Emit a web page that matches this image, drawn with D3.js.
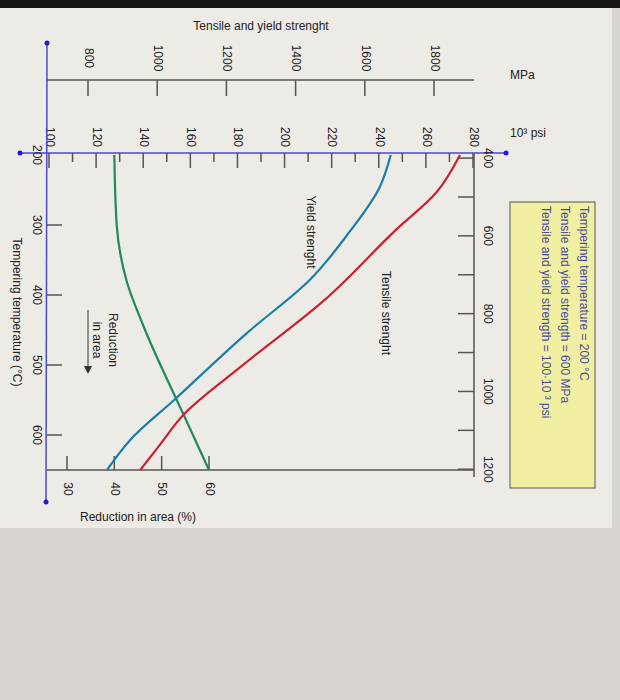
<!DOCTYPE html><html><head><meta charset="utf-8">
<script src="https://cdn.jsdelivr.net/npm/d3@7/dist/d3.min.js"></script>
<style>body{margin:0}svg{display:block;font-family:Arial,"Liberation Sans",sans-serif}</style></head><body>
<script>
const tempTicks=[200,300,400,500,600];
const mpaTicks=[800,1000,1200,1400,1600,1800];
const ksiTicks=[100,120,140,160,180,200,220,240,260,280];
const fTicks=[400,600,800,1000,1200];
const raTicks=[30,40,50,60];
const tensileT=[200,254,307,407,503,569,617,650];
const tensileMPa=[1875,1806,1690,1484,1240,1080,1003,951];
const yieldT=[200,246,311,379,454,550,607,650];
const yieldMPa=[1675,1643,1554,1440,1260,1049,922,855];
const raT=[200,300,380,450,569,650];
const raPct=[40,40.5,42.6,46.5,54.5,60];
const boxLines=["Tempering temperature  = 200 °C","Tensile and yield strength = 600 MPa","Tensile and yield strength = 100·10 ³ psi"];

const svg=d3.select("body").append("svg").attr("width",620).attr("height",700);
svg.append("rect").attr("width",620).attr("height",700).attr("fill","#d8d5d1");
svg.append("rect").attr("width",612).attr("height",520).attr("y",8).attr("fill","#ecebe6");
svg.append("rect").attr("width",620).attr("height",8).attr("fill","#161616");

const yT=d3.scaleLinear([200,650],[155,470]);
const xM=d3.scaleLinear([800,1800],[88,434]);
const xK=d3.scaleLinear([100,280],[49,473]);
const xP=d3.scaleLinear([30,60],[67,209]);
const yF=f=>yT((f-32)*5/9);
const blue="#4a4ad0",gray="#555";
function vtext(x,y,t,o={}){const g=svg.append("text").attr("transform",`translate(${x},${y}) rotate(90)`).attr("text-anchor",o.a||"middle").attr("dominant-baseline","middle").attr("font-size",o.s||12).attr("fill",o.c||"#222").text(t);return g;}

svg.append("line").attr("x1",47).attr("x2",474).attr("y1",80).attr("y2",80).attr("stroke",gray).attr("stroke-width",1.5);
mpaTicks.forEach(v=>{svg.append("line").attr("x1",xM(v)).attr("x2",xM(v)).attr("y1",80).attr("y2",96).attr("stroke",gray).attr("stroke-width",1.5);vtext(xM(v),58,v);});
svg.append("text").attr("x",510).attr("y",79).attr("font-size",12).attr("fill","#222").text("MPa");
svg.append("text").attr("x",261).attr("y",30).attr("text-anchor","middle").attr("font-size",12).attr("fill","#222").text("Tensile and yield strenght");
svg.append("line").attr("x1",20).attr("x2",506).attr("y1",153).attr("y2",153).attr("stroke",blue).attr("stroke-width",1.5);
[20,506].forEach(x=>svg.append("circle").attr("cx",x).attr("cy",153).attr("r",2.5).attr("fill","#2020c0"));
d3.range(100,281,10).forEach(v=>{const big=v%20==0;svg.append("line").attr("x1",xK(v)).attr("x2",xK(v)).attr("y1",153).attr("y2",big?168:162).attr("stroke",gray).attr("stroke-width",1.5);});
ksiTicks.forEach(v=>vtext(xK(v),137,v));
svg.append("text").attr("x",510).attr("y",137).attr("font-size",12).attr("fill","#222").text("10³ psi");
svg.append("line").attr("x1",47).attr("x2",46).attr("y1",43).attr("y2",502).attr("stroke",blue).attr("stroke-width",1.5);
[[47,43],[46,502]].forEach(p=>svg.append("circle").attr("cx",p[0]).attr("cy",p[1]).attr("r",2.5).attr("fill","#2020c0"));
tempTicks.forEach(v=>{if(v>200)svg.append("line").attr("x1",47).attr("x2",62).attr("y1",yT(v)).attr("y2",yT(v)).attr("stroke",gray).attr("stroke-width",1.5);vtext(36,yT(v),v);});
vtext(16,312,"Tempering temperature (°C)");
svg.append("line").attr("x1",474).attr("x2",474).attr("y1",153).attr("y2",477).attr("stroke",gray).attr("stroke-width",1.5);
svg.append("line").attr("x1",47).attr("x2",474).attr("y1",470).attr("y2",470).attr("stroke",gray).attr("stroke-width",1.5);
d3.range(400,1201,100).forEach(f=>svg.append("line").attr("x1",458).attr("x2",474).attr("y1",yF(f)).attr("y2",yF(f)).attr("stroke",gray).attr("stroke-width",1.5));
fTicks.forEach(f=>vtext(487,yF(f),f));
raTicks.forEach(v=>{svg.append("line").attr("x1",xP(v)).attr("x2",xP(v)).attr("y1",456).attr("y2",470).attr("stroke",gray).attr("stroke-width",1.5);vtext(xP(v),489,v);});
svg.append("text").attr("x",138).attr("y",521).attr("text-anchor","middle").attr("font-size",12).attr("fill","#222").text("Reduction in area (%)");
const curve=(T,V,xs,c)=>svg.append("path").datum(T.map((t,i)=>[xs(V[i]),yT(t)])).attr("d",d3.line().curve(d3.curveMonotoneY)).attr("fill","none").attr("stroke",c).attr("stroke-width",2.2);
curve(raT,raPct,xP,"#1f8a5e");
curve(yieldT,yieldMPa,xM,"#1a7fa6");
curve(tensileT,tensileMPa,xM,"#cc2030");
vtext(310,232,"Yield strenght");
vtext(385,313,"Tensile strenght");
vtext(112,340,"Reduction");vtext(96,340,"in area");
svg.append("line").attr("x1",88).attr("x2",88).attr("y1",310).attr("y2",372).attr("stroke","#333");
svg.append("path").attr("d","M84,366L88,374L92,366Z").attr("fill","#333");
svg.append("rect").attr("x",510).attr("y",202).attr("width",85).attr("height",286).attr("fill","#f1efa2").attr("stroke","#555");
boxLines.forEach((t,i)=>vtext(583-i*19,206,t,{a:"start",c:"#4a4aa0"}));
</script></body></html>
